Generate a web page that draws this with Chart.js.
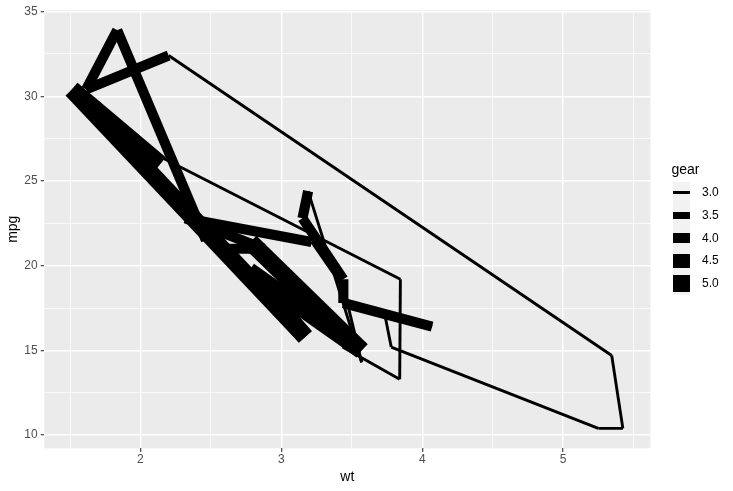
<!DOCTYPE html>
<html>
<head>
<meta charset="utf-8">
<script src="https://cdn.jsdelivr.net/npm/chart.js@4.4.1/dist/chart.umd.min.js"></script>
<style>
  html, body { margin: 0; padding: 0; background: #ffffff; }
  #wrap { position: relative; width: 733px; height: 491px; font-family: "Liberation Sans", Arial, sans-serif; }
  #c { position: absolute; left: 0; top: 0; }
  .lg { position: absolute; white-space: nowrap; }
</style>
</head>
<body>
<div id="wrap">
  <canvas id="c" width="733" height="491"></canvas>
  <div id="legend"></div>
</div>
<script>
// mtcars, in data (row) order
const carNames = ["Mazda RX4","Mazda RX4 Wag","Datsun 710","Hornet 4 Drive","Hornet Sportabout","Valiant","Duster 360","Merc 240D","Merc 230","Merc 280","Merc 280C","Merc 450SE","Merc 450SL","Merc 450SLC","Cadillac Fleetwood","Lincoln Continental","Chrysler Imperial","Fiat 128","Honda Civic","Toyota Corolla","Toyota Corona","Dodge Challenger","AMC Javelin","Camaro Z28","Pontiac Firebird","Fiat X1-9","Porsche 914-2","Lotus Europa","Ford Pantera L","Ferrari Dino","Maserati Bora","Volvo 142E"];
const wt   = [2.620,2.875,2.320,3.215,3.440,3.460,3.570,3.190,3.150,3.440,3.440,4.070,3.730,3.780,5.250,5.424,5.345,2.200,1.615,1.835,2.465,3.520,3.435,3.840,3.845,1.935,2.140,1.513,3.170,2.770,3.570,2.780];
const mpg  = [21.0,21.0,22.8,21.4,18.7,18.1,14.3,24.4,22.8,19.2,17.8,16.4,17.3,15.2,10.4,10.4,14.7,32.4,30.4,33.9,21.5,15.5,15.2,13.3,19.2,27.3,26.0,30.4,15.8,19.7,15.0,21.4];
const gear = [4,4,4,3,3,3,3,4,4,4,4,3,3,3,3,3,3,4,4,4,3,3,3,3,3,4,5,5,5,5,5,4];

const xMajorTicks = [2,3,4,5];
const xMinorTicks = [1.5,2.5,3.5,4.5,5.5];
const yMajorTicks = [10,15,20,25,30,35];
const yMinorTicks = [12.5,17.5,22.5,27.5,32.5];
const legendGears = [3.0,3.5,4.0,4.5,5.0];
const legendTitle = "gear";
const xTitle = "wt";
const yTitle = "mpg";

// linewidth scale: gear 3..5 -> 1..6 (mm), ~2.9 px per unit
const gMin = 3, gMax = 5;
function widthFor(g) { return 2.9 * (1 + (g - gMin) / (gMax - gMin) * 5); }

// x/y expanded ranges (5%)
const xLo = Math.min(...wt), xHi = Math.max(...wt);
const yLo = Math.min(...mpg), yHi = Math.max(...mpg);
const xPad = (xHi - xLo) * 0.05, yPad = (yHi - yLo) * 0.05;

// one dataset per path segment (butt ends, width from starting point)
const datasets = [];
for (let i = 0; i < wt.length - 1; i++) {
  datasets.push({
    label: carNames[i],
    data: [{x: wt[i], y: mpg[i]}, {x: wt[i+1], y: mpg[i+1]}],
    showLine: true,
    borderColor: '#000000',
    backgroundColor: '#000000',
    borderWidth: widthFor(gear[i]),
    borderCapStyle: 'butt',
    borderJoinStyle: 'miter',
    pointRadius: 0,
    pointHoverRadius: 0,
    tension: 0,
    fill: false
  });
}

const panelBg = {
  id: 'panelBg',
  beforeDraw(chart) {
    const {ctx, chartArea: a} = chart;
    ctx.save();
    ctx.fillStyle = '#EBEBEB';
    ctx.fillRect(a.left, a.top, a.right - a.left, a.bottom - a.top);
    ctx.restore();
  }
};

const isIn = (arr, v) => arr.some(t => Math.abs(t - v) < 1e-9);
const FONT = '"Liberation Sans", Arial, sans-serif';

function axisOpts(major, minor, lo, hi, title, isX) {
  const all = [...major, ...minor].sort((a,b)=>a-b).filter(v => v >= lo && v <= hi);
  return {
    type: 'linear',
    position: isX ? 'bottom' : 'left',
    min: lo, max: hi,
    afterBuildTicks(scale) { scale.ticks = all.map(v => ({value: v})); },
    afterFit(scale) { if (isX) scale.height = 42.7; else scale.width = 44.3; },
    border: { display: false },
    grid: {
      color: '#FFFFFF',
      lineWidth: (c) => (c.tick && isIn(major, c.tick.value)) ? 1.4 : 0.7,
      drawTicks: true,
      tickLength: 3.6,
      tickWidth: 1.1,
      tickColor: (c) => (c.tick && isIn(major, c.tick.value)) ? '#333333' : 'rgba(0,0,0,0)'
    },
    ticks: {
      autoSkip: false,
      maxRotation: 0,
      padding: isX ? 0.5 : 3,
      color: '#4D4D4D',
      font: { family: FONT, size: 12 },
      callback: (v) => isIn(major, v) ? String(v) : ''
    },
    title: {
      display: true,
      text: title,
      color: '#000000',
      font: { family: FONT, size: 14 },
      padding: isX ? { top: 0, bottom: 5.7 } : { top: 4.4, bottom: 0 }
    }
  };
}

new Chart(document.getElementById('c'), {
  type: 'scatter',
  data: { datasets },
  options: {
    responsive: false,
    animation: false,
    layout: { padding: { left: 0, right: 82.6, top: 6.7, bottom: 0 } },
    plugins: { legend: { display: false }, tooltip: { enabled: false } },
    scales: {
      x: axisOpts(xMajorTicks, xMinorTicks, xLo - xPad, xHi + xPad, xTitle, true),
      y: axisOpts(yMajorTicks, yMinorTicks, yLo - yPad, yHi + yPad, yTitle, false)
    }
  },
  plugins: [panelBg]
});

// HTML legend
(function () {
  const lg = document.getElementById('legend');
  const left = 672.5, top = 181.5, keyW = 17.3, keyH = 22.7;
  const t = document.createElement('div');
  t.className = 'lg';
  t.textContent = legendTitle;
  Object.assign(t.style, { left: (left - 1) + 'px', top: '161px', fontSize: '14px', lineHeight: '17px', color: '#000' });
  lg.appendChild(t);
  const bg = document.createElement('div');
  bg.className = 'lg';
  Object.assign(bg.style, { left: left + 'px', top: top + 'px', width: keyW + 'px', height: (keyH * legendGears.length) + 'px', background: '#F2F2F2' });
  lg.appendChild(bg);
  legendGears.forEach((g, i) => {
    const cy = top + keyH * (i + 0.5);
    const w = widthFor(g);
    const line = document.createElement('div');
    line.className = 'lg';
    Object.assign(line.style, { left: left + 'px', top: (cy - w / 2) + 'px', width: keyW + 'px', height: w + 'px', background: '#000' });
    lg.appendChild(line);
    const lab = document.createElement('div');
    lab.className = 'lg';
    lab.textContent = g.toFixed(1);
    Object.assign(lab.style, { left: '702px', top: (cy - 7.5) + 'px', fontSize: '12px', lineHeight: '15px', color: '#000' });
    lg.appendChild(lab);
  });
})();
</script>
</body>
</html>
